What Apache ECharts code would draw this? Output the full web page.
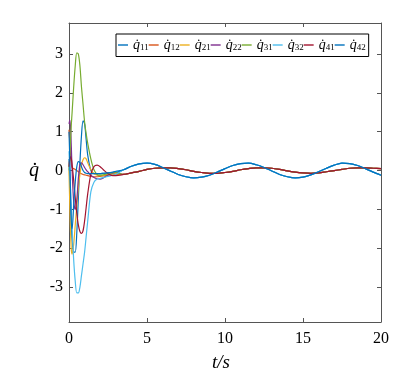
<!DOCTYPE html>
<html>
<head>
<meta charset="utf-8">
<script src="https://cdn.jsdelivr.net/npm/echarts@6/dist/echarts.min.js"></script>
<style>html,body{margin:0;padding:0;background:#fff}#c{width:397px;height:382px}</style>
</head>
<body>
<div id="c"></div>
<script>
// time grid for the transient part and the steady-state part
var tTransient = [0, 0.05, 0.1, 0.15, 0.2, 0.3, 0.4, 0.5, 0.6, 0.7, 0.8, 0.9, 1.0, 1.1, 1.2, 1.4, 1.6, 1.8, 2.0, 2.2, 2.5, 2.8, 3.0];
var tSteady = [3.5, 4, 4.5, 5, 5.5, 6, 6.5, 7, 7.5, 8, 8.5, 9, 9.5, 10, 10.5, 11, 11.5, 12, 12.5, 13, 13.5, 14, 14.5, 15, 15.5, 16, 16.5, 17, 17.5, 18, 18.5, 19, 19.5, 20];

// steady-state oscillations
var steadyBlue = [0.02, 0.11, 0.17, 0.19, 0.16, 0.08, -0.01, -0.10, -0.16, -0.19, -0.17, -0.12, -0.04, 0.05, 0.13, 0.18, 0.19, 0.15, 0.08, -0.01, -0.10, -0.16, -0.19, -0.17, -0.11, -0.03, 0.06, 0.14, 0.19, 0.18, 0.13, 0.05, -0.04, -0.12];
var steadyRed = [-0.10, -0.06, -0.02, 0.03, 0.06, 0.07, 0.07, 0.05, 0.02, -0.02, -0.05, -0.07, -0.07, -0.05, -0.02, 0.02, 0.05, 0.07, 0.07, 0.06, 0.03, -0.01, -0.04, -0.06, -0.07, -0.06, -0.03, 0.00, 0.03, 0.06, 0.07, 0.07, 0.06, 0.05];

// transient parts of each series
var q11 = [0.3, -0.3, -0.9, -1.4, -1.8, -2.1, -2.1, -1.6, -0.7, 0.2, 0.9, 1.28, 1.2, 0.8, 0.4, 0.0, -0.08, -0.08, -0.08, -0.07, -0.06, -0.05, -0.05];
var q12 = [1.05, 0.75, 0.35, 0.15, 0.08, 0.05, 0.03, 0.0, -0.03, -0.06, -0.08, -0.1, -0.11, -0.12, -0.13, -0.15, -0.16, -0.16, -0.15, -0.14, -0.12, -0.11, -0.1];
var q21 = [0.0, -0.9, -1.6, -2.05, -2.15, -1.9, -1.4, -0.9, -0.45, -0.1, 0.15, 0.28, 0.33, 0.3, 0.2, 0.02, -0.08, -0.12, -0.13, -0.12, -0.1, -0.09, -0.08];
var q22 = [1.2, 1.3, 1.1, 0.6, 0.0, -0.8, -1.0, -0.75, -0.2, 0.15, 0.2, 0.15, 0.08, 0.02, -0.03, -0.12, -0.18, -0.21, -0.22, -0.19, -0.12, -0.07, -0.05];
var q31 = [0.0, 0.4, 0.8, 1.2, 1.5, 2.15, 2.7, 3.03, 3.0, 2.7, 2.15, 1.7, 1.25, 0.95, 0.7, 0.3, 0.02, -0.1, -0.12, -0.11, -0.08, -0.06, -0.05];
var q32 = [0.5, 0.0, -0.5, -1.0, -1.5, -2.3, -2.85, -3.15, -3.15, -3.0, -2.7, -2.4, -2.1, -1.7, -1.3, -0.55, -0.3, -0.22, -0.2, -0.18, -0.15, -0.12, -0.1];
var q41 = [0.1, 0.3, 0.35, 0.3, 0.15, -0.25, -0.7, -1.1, -1.4, -1.57, -1.62, -1.55, -1.3, -0.95, -0.6, -0.1, 0.1, 0.14, 0.1, 0.02, -0.08, -0.13, -0.13];
var q42 = [1.0, 0.3, -0.6, -1.35, -1.5, -0.9, -0.3, 0.1, 0.23, 0.2, 0.1, 0.0, -0.05, -0.07, -0.08, -0.08, -0.08, -0.08, -0.08, -0.07, -0.06, -0.04, -0.02];

var seriesNames = ['q11', 'q12', 'q21', 'q22', 'q31', 'q32', 'q41', 'q42'];
var transients = [q11, q12, q21, q22, q31, q32, q41, q42];
var steadyOf = [steadyBlue, steadyRed, steadyRed, steadyRed, steadyRed, steadyBlue, steadyRed, steadyBlue];
var colors = ['#0072BD', '#D95319', '#EDB120', '#7E2F8E', '#77AC30', '#4DBEEE', '#A2142F', '#0072BD'];

var yTicks = [-3, -2, -1, 0, 1, 2, 3];

function build(tr, st) {
  var d = [];
  for (var i = 0; i < tTransient.length; i++) d.push([tTransient[i], tr[i]]);
  for (var j = 0; j < tSteady.length; j++) d.push([tSteady[j], st[j]]);
  return d;
}

var serif = 'Liberation Serif';
var axisColor = '#555';
var series = seriesNames.map(function (n, i) {
  return {
    name: n, type: 'line', data: build(transients[i], steadyOf[i]),
    xAxisIndex: 0, yAxisIndex: 0,
    symbol: 'none', smooth: 0.3,
    lineStyle: { color: colors[i], width: 1.2 },
    itemStyle: { color: colors[i] },
    animation: false
  };
});

var chart = echarts.init(document.getElementById('c'), null, { renderer: 'canvas' });
chart.setOption({
  backgroundColor: '#fff',
  animation: false,
  grid: { left: 69, right: 16, top: 23, bottom: 60 },
  legend: {
    left: 116, top: 34, width: 275,
    orient: 'horizontal',
    icon: 'rect',
    itemWidth: 10, itemHeight: 1.4, itemGap: 0,
    padding: [4, 3, 4, 2],
    borderColor: '#000', borderWidth: 1, backgroundColor: '#fff',
    data: seriesNames,
    formatter: function (name) { return '{q|q\u0307}{s|' + name.slice(1) + '}'; },
    textStyle: {
      rich: {
        q: { fontFamily: serif, fontStyle: 'italic', fontSize: 14, color: '#000' },
        s: { fontFamily: serif, fontSize: 9, color: '#000', verticalAlign: 'bottom', padding: [6, 0, 0, 0] }
      }
    }
  },
  xAxis: [{
    type: 'value', min: 0, max: 20, interval: 5, position: 'bottom',
    axisLine: { show: true, onZero: false, lineStyle: { color: axisColor, width: 1 } },
    axisTick: { show: true, inside: true, length: 4, lineStyle: { color: axisColor } },
    axisLabel: { fontFamily: serif, fontSize: 16, color: '#000', margin: 9 },
    splitLine: { show: false }
  }, {
    type: 'value', min: 0, max: 20, interval: 5, position: 'top',
    axisLine: { show: true, onZero: false, lineStyle: { color: axisColor, width: 1 } },
    axisTick: { show: true, inside: true, length: 4, lineStyle: { color: axisColor } },
    axisLabel: { show: false }, splitLine: { show: false }
  }],
  yAxis: [{
    type: 'value', min: -3.9, max: 3.8, position: 'left',
    axisLine: { show: true, onZero: false, lineStyle: { color: axisColor, width: 1 } },
    axisTick: { show: true, inside: true, length: 4, customValues: yTicks, lineStyle: { color: axisColor } },
    axisLabel: { fontFamily: serif, fontSize: 16, color: '#000', margin: 6, customValues: yTicks },
    splitLine: { show: false }
  }, {
    type: 'value', min: -3.9, max: 3.8, position: 'right',
    axisLine: { show: true, onZero: false, lineStyle: { color: axisColor, width: 1 } },
    axisTick: { show: true, inside: true, length: 4, customValues: yTicks, lineStyle: { color: axisColor } },
    axisLabel: { show: false, customValues: yTicks }, splitLine: { show: false }
  }],
  graphic: [
    { type: 'text', left: 212, top: 353, style: { text: 't/s', font: 'italic 19px "Liberation Serif"', fill: '#000' } },
    { type: 'text', left: 29, top: 161, style: { text: 'q\u0307', font: 'italic 20px "Liberation Serif"', fill: '#000' } }
  ],
  series: series
});
</script>
</body>
</html>
